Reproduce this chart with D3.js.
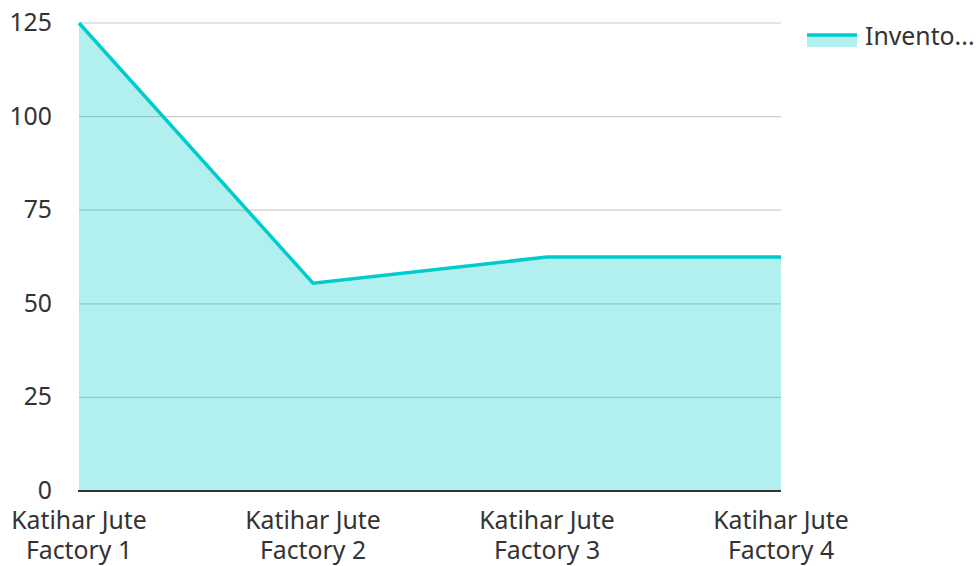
<!DOCTYPE html>
<html><head><meta charset="utf-8">
<script src="https://cdn.jsdelivr.net/npm/d3@7"></script>
<style>body{margin:0;background:#fff}text{font-family:"Noto Sans",sans-serif;fill:#333}</style>
</head><body><svg id="c" width="978" height="566"></svg>
<script>
const categories = ["Katihar Jute Factory 1","Katihar Jute Factory 2","Katihar Jute Factory 3","Katihar Jute Factory 4"];
const values = [125, 55.5, 62.5, 62.5];
const yTicks = [0,25,50,75,100,125];
const seriesName = "Invento...";

const svg = d3.select("#c");
const L=79, R=781, T=23, B=491;
const FS=24.8;
const x = d3.scalePoint().domain(categories).range([L,R]).padding(0);
const y = d3.scaleLinear().domain([0,125]).range([B,T]);

// grid
svg.append("g").selectAll("line").data(yTicks.filter(d=>d>0)).join("line")
  .attr("x1",L).attr("x2",R).attr("y1",d=>y(d)).attr("y2",d=>y(d))
  .attr("stroke","#cccccc").attr("stroke-width",1.2);

// area
svg.append("path").datum(values)
  .attr("d", d3.area().x((d,i)=>x(categories[i])).y0(y(0)).y1(d=>y(d)))
  .attr("fill","#00cccc").attr("fill-opacity",0.3);
svg.append("path").datum(values)
  .attr("d", d3.line().x((d,i)=>x(categories[i])).y(d=>y(d)))
  .attr("fill","none").attr("stroke","#00cccc").attr("stroke-width",3.5);

// baseline
svg.append("line").attr("x1",L-1).attr("x2",R).attr("y1",B).attr("y2",B)
  .attr("stroke","#333").attr("stroke-width",2);

// y labels
svg.append("g").selectAll("text").data(yTicks).join("text")
  .attr("x",52).attr("y",d=>y(d)+8).attr("text-anchor","end")
  .attr("font-size",FS).text(d=>d);

// x labels
const xl = svg.append("g").selectAll("text").data(categories).join("text")
  .attr("x",d=>x(d)).attr("y",529).attr("text-anchor","middle").attr("font-size",FS);
xl.each(function(d){
  const parts = d.match(/^(.*Jute) (.*)$/);
  const t = d3.select(this);
  t.append("tspan").attr("x",x(d)).attr("dy",0).text(parts[1]);
  t.append("tspan").attr("x",x(d)).attr("dy",30).text(parts[2]);
});

// legend
svg.append("rect").attr("x",807).attr("y",36).attr("width",50).attr("height",11)
  .attr("fill","#00cccc").attr("fill-opacity",0.3);
svg.append("line").attr("x1",807).attr("x2",857).attr("y1",35).attr("y2",35)
  .attr("stroke","#00cccc").attr("stroke-width",3.5);
svg.append("text").attr("x",865).attr("y",45).attr("font-size",FS).text(seriesName);
</script></body></html>
